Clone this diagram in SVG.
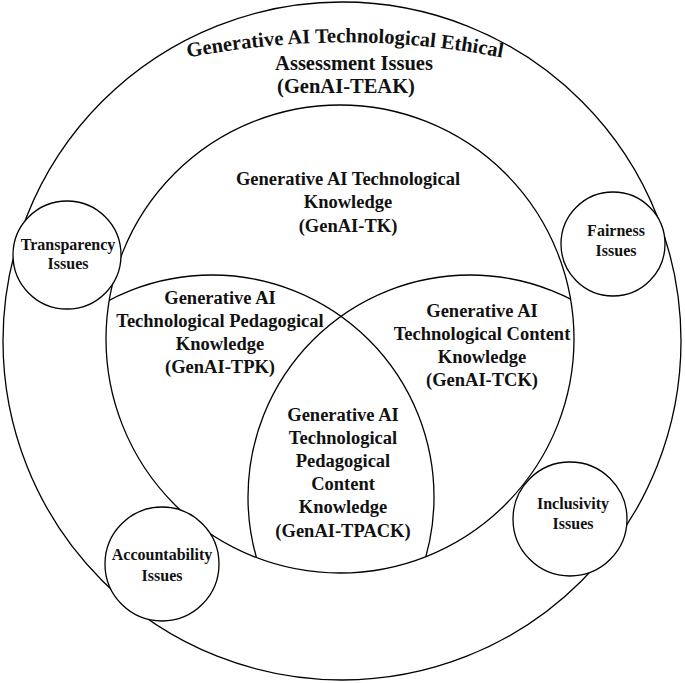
<svg xmlns="http://www.w3.org/2000/svg" xmlns:xlink="http://www.w3.org/1999/xlink" width="685" height="683" viewBox="0 0 685 683">
<style>
.c{fill:none;stroke:#000;stroke-width:1.3}
.s{fill:#fff;stroke:#000;stroke-width:1.3}
text{font-family:"Liberation Serif","Times New Roman",serif;font-weight:bold;fill:#111;text-anchor:middle}
.m{font-size:18.5px}
.t{font-size:20.5px}
.k{font-size:16px}
</style>
<defs>
<clipPath id="tkclip"><circle cx="340" cy="339" r="234"/></clipPath>
<path id="arc" d="M176,60 A820,820 0 0 1 514,60"/>
</defs>
<rect width="685" height="683" fill="#fff"/>
<g id="teak">
<circle class="c" cx="342" cy="341" r="339"/>
<text class="t"><textPath xlink:href="#arc" href="#arc" startOffset="50%">Generative AI Technological Ethical</textPath></text>
<text class="t" x="354" y="70">Assessment Issues</text>
<text class="t" x="346" y="93">(GenAI-TEAK)</text>
</g>
<g id="tk">
<circle class="c" cx="340" cy="339" r="234"/>
<text class="m" x="348" y="185">Generative AI Technological</text>
<text class="m" x="348" y="208">Knowledge</text>
<text class="m" x="348" y="232">(GenAI-TK)</text>
</g>
<g id="tpk">
<circle class="c" cx="212" cy="497" r="222" clip-path="url(#tkclip)"/>
<text class="m" x="220" y="304">Generative AI</text>
<text class="m" x="220" y="327">Technological Pedagogical</text>
<text class="m" x="220" y="350">Knowledge</text>
<text class="m" x="220" y="373">(GenAI-TPK)</text>
</g>
<g id="tck">
<circle class="c" cx="470" cy="497" r="222" clip-path="url(#tkclip)"/>
<text class="m" x="482" y="317">Generative AI</text>
<text class="m" x="482" y="340">Technological Content</text>
<text class="m" x="482" y="363">Knowledge</text>
<text class="m" x="482" y="386">(GenAI-TCK)</text>
</g>
<g id="tpack">
<text class="m" x="343" y="421">Generative AI</text>
<text class="m" x="343" y="444">Technological</text>
<text class="m" x="343" y="467">Pedagogical</text>
<text class="m" x="343" y="490">Content</text>
<text class="m" x="343" y="513">Knowledge</text>
<text class="m" x="343" y="537">(GenAI-TPACK)</text>
</g>
<g id="transparency">
<circle class="s" cx="67" cy="255" r="54"/>
<text class="k" x="68" y="250">Transparency</text>
<text class="k" x="68" y="269">Issues</text>
</g>
<g id="fairness">
<circle class="s" cx="613" cy="244" r="52"/>
<text class="k" x="616" y="236">Fairness</text>
<text class="k" x="616" y="256">Issues</text>
</g>
<g id="inclusivity">
<circle class="s" cx="570" cy="519" r="57"/>
<text class="k" x="573" y="509">Inclusivity</text>
<text class="k" x="573" y="529">Issues</text>
</g>
<g id="accountability">
<circle class="s" cx="162" cy="564" r="57"/>
<text class="k" x="162" y="560">Accountability</text>
<text class="k" x="162" y="581">Issues</text>
</g>
<g id="connectors"/>
</svg>
